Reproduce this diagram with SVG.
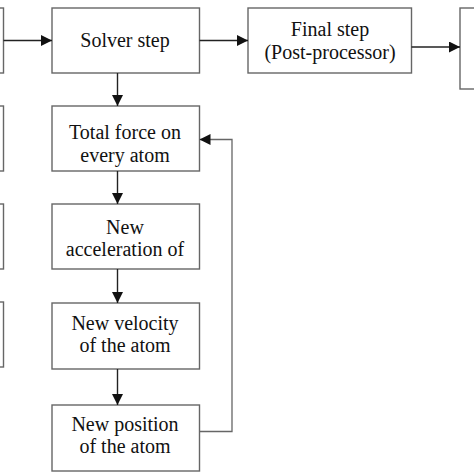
<svg xmlns="http://www.w3.org/2000/svg" width="474" height="474" viewBox="0 0 474 474">
<defs>
<marker id="ah" markerUnits="userSpaceOnUse" markerWidth="12" markerHeight="12" refX="11" refY="5.5" orient="auto">
<path d="M0,0 L11,5.5 L0,11 z" fill="#111"/>
</marker>
<style>
.box{fill:#fff;stroke:#666;stroke-width:1.4}
.t{font-family:'Liberation Serif','Tinos','DejaVu Serif',serif;font-size:20px;fill:#111;text-anchor:middle}
.c{fill:none;stroke:#222;stroke-width:1.4}
.fb{fill:none;stroke:#666;stroke-width:1.3}
</style>
</defs>
<rect width="474" height="474" fill="#fff"/>
<g id="left1"><rect class="box" x="-150" y="8" width="153.5" height="65"/></g>
<g id="left2"><rect class="box" x="-150" y="106" width="153.5" height="65"/></g>
<g id="left3"><rect class="box" x="-150" y="204" width="153.5" height="65"/></g>
<g id="left4"><rect class="box" x="-150" y="302" width="153.5" height="65"/></g>
<g id="solver"><rect class="box" x="52" y="8" width="147.5" height="65"/><text class="t" x="125" y="47" font-family="Liberation Serif, serif">Solver step</text></g>
<g id="final"><rect class="box" x="248" y="8" width="163.5" height="65"/><text class="t" x="330" y="36">Final step</text><text class="t" x="330" y="59">(Post-processor)</text></g>
<g id="right"><rect class="box" x="460" y="8" width="100" height="81"/></g>
<g id="force"><rect class="box" x="52" y="106" width="147.5" height="65"/><text class="t" x="125" y="139">Total force on</text><text class="t" x="125" y="162">every atom</text></g>
<g id="accel"><rect class="box" x="52" y="204" width="147.5" height="65"/><text class="t" x="125" y="234">New</text><text class="t" x="125" y="256">acceleration of</text></g>
<g id="velocity"><rect class="box" x="52" y="303" width="147.5" height="66"/><text class="t" x="125" y="330">New velocity</text><text class="t" x="125" y="352">of the atom</text></g>
<g id="position"><rect class="box" x="52" y="405" width="147.5" height="66"/><text class="t" x="125" y="431">New position</text><text class="t" x="125" y="453">of the atom</text></g>
<g id="connectors">
<line class="c" x1="3.5" y1="40.5" x2="52" y2="40.5" marker-end="url(#ah)"/>
<line class="c" x1="199.5" y1="40.5" x2="248" y2="40.5" marker-end="url(#ah)"/>
<line class="c" x1="411.5" y1="47" x2="460" y2="47" marker-end="url(#ah)"/>
<line class="c" x1="117.5" y1="73" x2="117.5" y2="106" marker-end="url(#ah)"/>
<line class="c" x1="117.5" y1="171" x2="117.5" y2="204" marker-end="url(#ah)"/>
<line class="c" x1="117.5" y1="269" x2="117.5" y2="303" marker-end="url(#ah)"/>
<line class="c" x1="117.5" y1="369" x2="117.5" y2="405" marker-end="url(#ah)"/>
<path class="fb" d="M199.5,431.5 H232 V139.5 H199.5" marker-end="url(#ah)"/>
</g>
</svg>
